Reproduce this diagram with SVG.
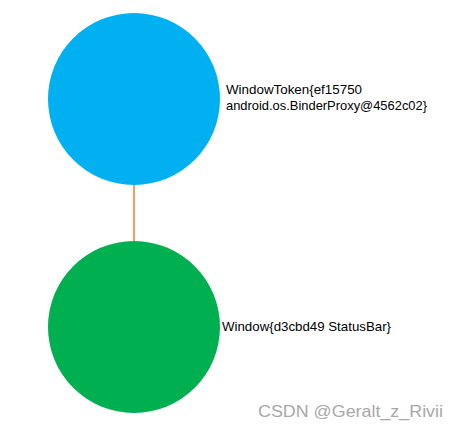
<svg xmlns="http://www.w3.org/2000/svg" width="459" height="428" viewBox="0 0 459 428">
<style>
.lbl{font-family:"Liberation Sans","Noto Sans",sans-serif;font-size:13px;fill:#000}
.wm{font-family:"Liberation Sans","Noto Sans",sans-serif;font-size:16px;fill:#a8a8a8}
</style>
<rect width="459" height="428" fill="#fff"/>
<g id="connectors">
<line x1="134" y1="185" x2="134" y2="241" stroke="#ED7D31" stroke-width="1.5"/>
</g>
<g id="windowtoken">
<circle cx="134" cy="99" r="86" fill="#00B0F0"/>
<text class="lbl" x="226" y="94" textLength="136" lengthAdjust="spacingAndGlyphs">WindowToken{ef15750</text>
<text class="lbl" x="226" y="110" textLength="201" lengthAdjust="spacingAndGlyphs">android.os.BinderProxy@4562c02}</text>
</g>
<g id="window">
<circle cx="134" cy="327" r="86" fill="#00B050"/>
<text class="lbl" x="222" y="331" textLength="169" lengthAdjust="spacingAndGlyphs">Window{d3cbd49 StatusBar}</text>
</g>
<text class="wm" x="258" y="417" textLength="185" lengthAdjust="spacingAndGlyphs">CSDN @Geralt_z_Rivii</text>
</svg>
